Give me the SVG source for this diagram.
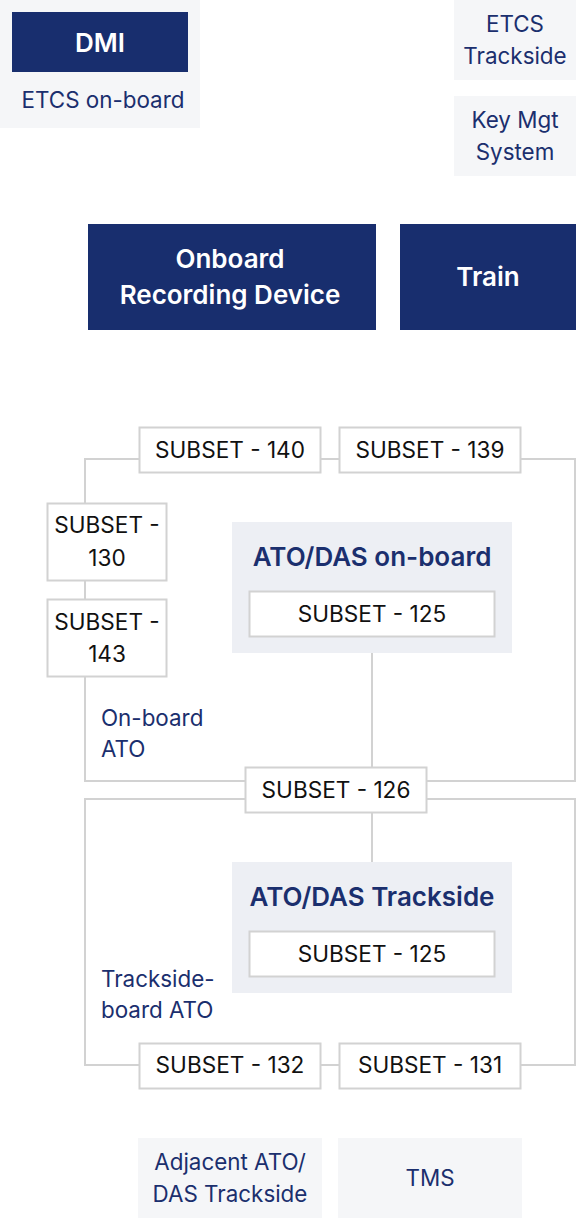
<svg xmlns="http://www.w3.org/2000/svg" width="576" height="1218" viewBox="0 0 576 1218">
<style>
text{font-family:Inter,"Noto Sans","Liberation Sans",sans-serif;text-anchor:middle}
.navy{fill:#182e6e}
.pale{fill:#f5f6f8}
.ato{fill:#edeff4}
.box{fill:#ffffff;stroke:#d2d2d2;stroke-width:2}
.wt{fill:#ffffff;font-size:26px;font-weight:600}
.lb{fill:#1b2f6e;font-size:22.4px}
.sb{fill:#111111;font-size:22.6px}
.tt{fill:#1b2f6e;font-size:26px;font-weight:600}
.ln{fill:none;stroke:#d2d2d2;stroke-width:2}
</style>
<rect width="576" height="1218" fill="#ffffff"/>
<g id="connectors">
<path class="ln" d="M139,459 H85 V503 M85,581 V599 M85,677 V781 H245 M321,459 H339 M521,459 H575 V781 H427 M372,653 V767"/>
<path class="ln" d="M245,799 H85 V1065 H139 M321,1065 H339 M521,1065 H575 V799 H427 M372,813 V862"/>
</g>
<g id="etcs-onboard">
<rect class="pale" x="0" y="0" width="200" height="128"/>
<text class="lb" x="103" y="108">ETCS on-board</text>
</g>
<g id="dmi">
<rect class="navy" x="12" y="12" width="176" height="60"/>
<text class="wt" x="100" y="52">DMI</text>
</g>
<g id="etcs-trackside">
<rect class="pale" x="454" y="0" width="122" height="80"/>
<text class="lb" x="515" y="32">ETCS</text>
<text class="lb" x="515" y="64">Trackside</text>
</g>
<g id="key-mgt">
<rect class="pale" x="454" y="96" width="122" height="80"/>
<text class="lb" x="515" y="128">Key Mgt</text>
<text class="lb" x="515" y="160">System</text>
</g>
<g id="recording-device">
<rect class="navy" x="88" y="224" width="288" height="106"/>
<text class="wt" x="230" y="268">Onboard</text>
<text class="wt" x="230" y="304">Recording Device</text>
</g>
<g id="train">
<rect class="navy" x="400" y="224" width="176" height="106"/>
<text class="wt" x="488" y="286">Train</text>
</g>
<g id="subset-140">
<rect class="box" x="139.5" y="427.5" width="181" height="45"/>
<text class="sb" x="230" y="458">SUBSET - 140</text>
</g>
<g id="subset-139">
<rect class="box" x="339.5" y="427.5" width="181" height="45"/>
<text class="sb" x="430" y="458">SUBSET - 139</text>
</g>
<g id="subset-130">
<rect class="box" x="47.5" y="503.5" width="119" height="77"/>
<text class="sb" x="107" y="533">SUBSET -</text>
<text class="sb" x="107" y="566">130</text>
</g>
<g id="subset-143">
<rect class="box" x="47.5" y="599.5" width="119" height="77"/>
<text class="sb" x="107" y="630">SUBSET -</text>
<text class="sb" x="107" y="662">143</text>
</g>
<g id="ato-das-onboard">
<rect class="ato" x="232" y="522" width="280" height="131"/>
<text class="tt" x="372" y="566">ATO/DAS on-board</text>
<rect class="box" x="249.5" y="591.5" width="245" height="45"/>
<text class="sb" x="372" y="622">SUBSET - 125</text>
</g>
<g id="onboard-ato-label">
<text class="lb" x="101" y="726" style="text-anchor:start">On-board</text>
<text class="lb" x="101" y="757" style="text-anchor:start">ATO</text>
</g>
<g id="subset-126">
<rect class="box" x="245.5" y="767.5" width="181" height="45"/>
<text class="sb" x="336" y="798">SUBSET - 126</text>
</g>
<g id="ato-das-trackside">
<rect class="ato" x="232" y="862" width="280" height="131"/>
<text class="tt" x="372" y="906">ATO/DAS Trackside</text>
<rect class="box" x="249.5" y="931.5" width="245" height="45"/>
<text class="sb" x="372" y="962">SUBSET - 125</text>
</g>
<g id="trackside-ato-label">
<text class="lb" x="101" y="987" style="text-anchor:start">Trackside-</text>
<text class="lb" x="101" y="1018" style="text-anchor:start">board ATO</text>
</g>
<g id="subset-132">
<rect class="box" x="139.5" y="1043.5" width="181" height="45"/>
<text class="sb" x="230" y="1073">SUBSET - 132</text>
</g>
<g id="subset-131">
<rect class="box" x="339.5" y="1043.5" width="181" height="45"/>
<text class="sb" x="430" y="1073">SUBSET - 131</text>
</g>
<g id="adjacent">
<rect class="pale" x="138" y="1138" width="184" height="80"/>
<text class="lb" x="230" y="1170">Adjacent ATO/</text>
<text class="lb" x="230" y="1202">DAS Trackside</text>
</g>
<g id="tms">
<rect class="pale" x="338" y="1138" width="184" height="80"/>
<text class="lb" x="430" y="1186">TMS</text>
</g>
</svg>
